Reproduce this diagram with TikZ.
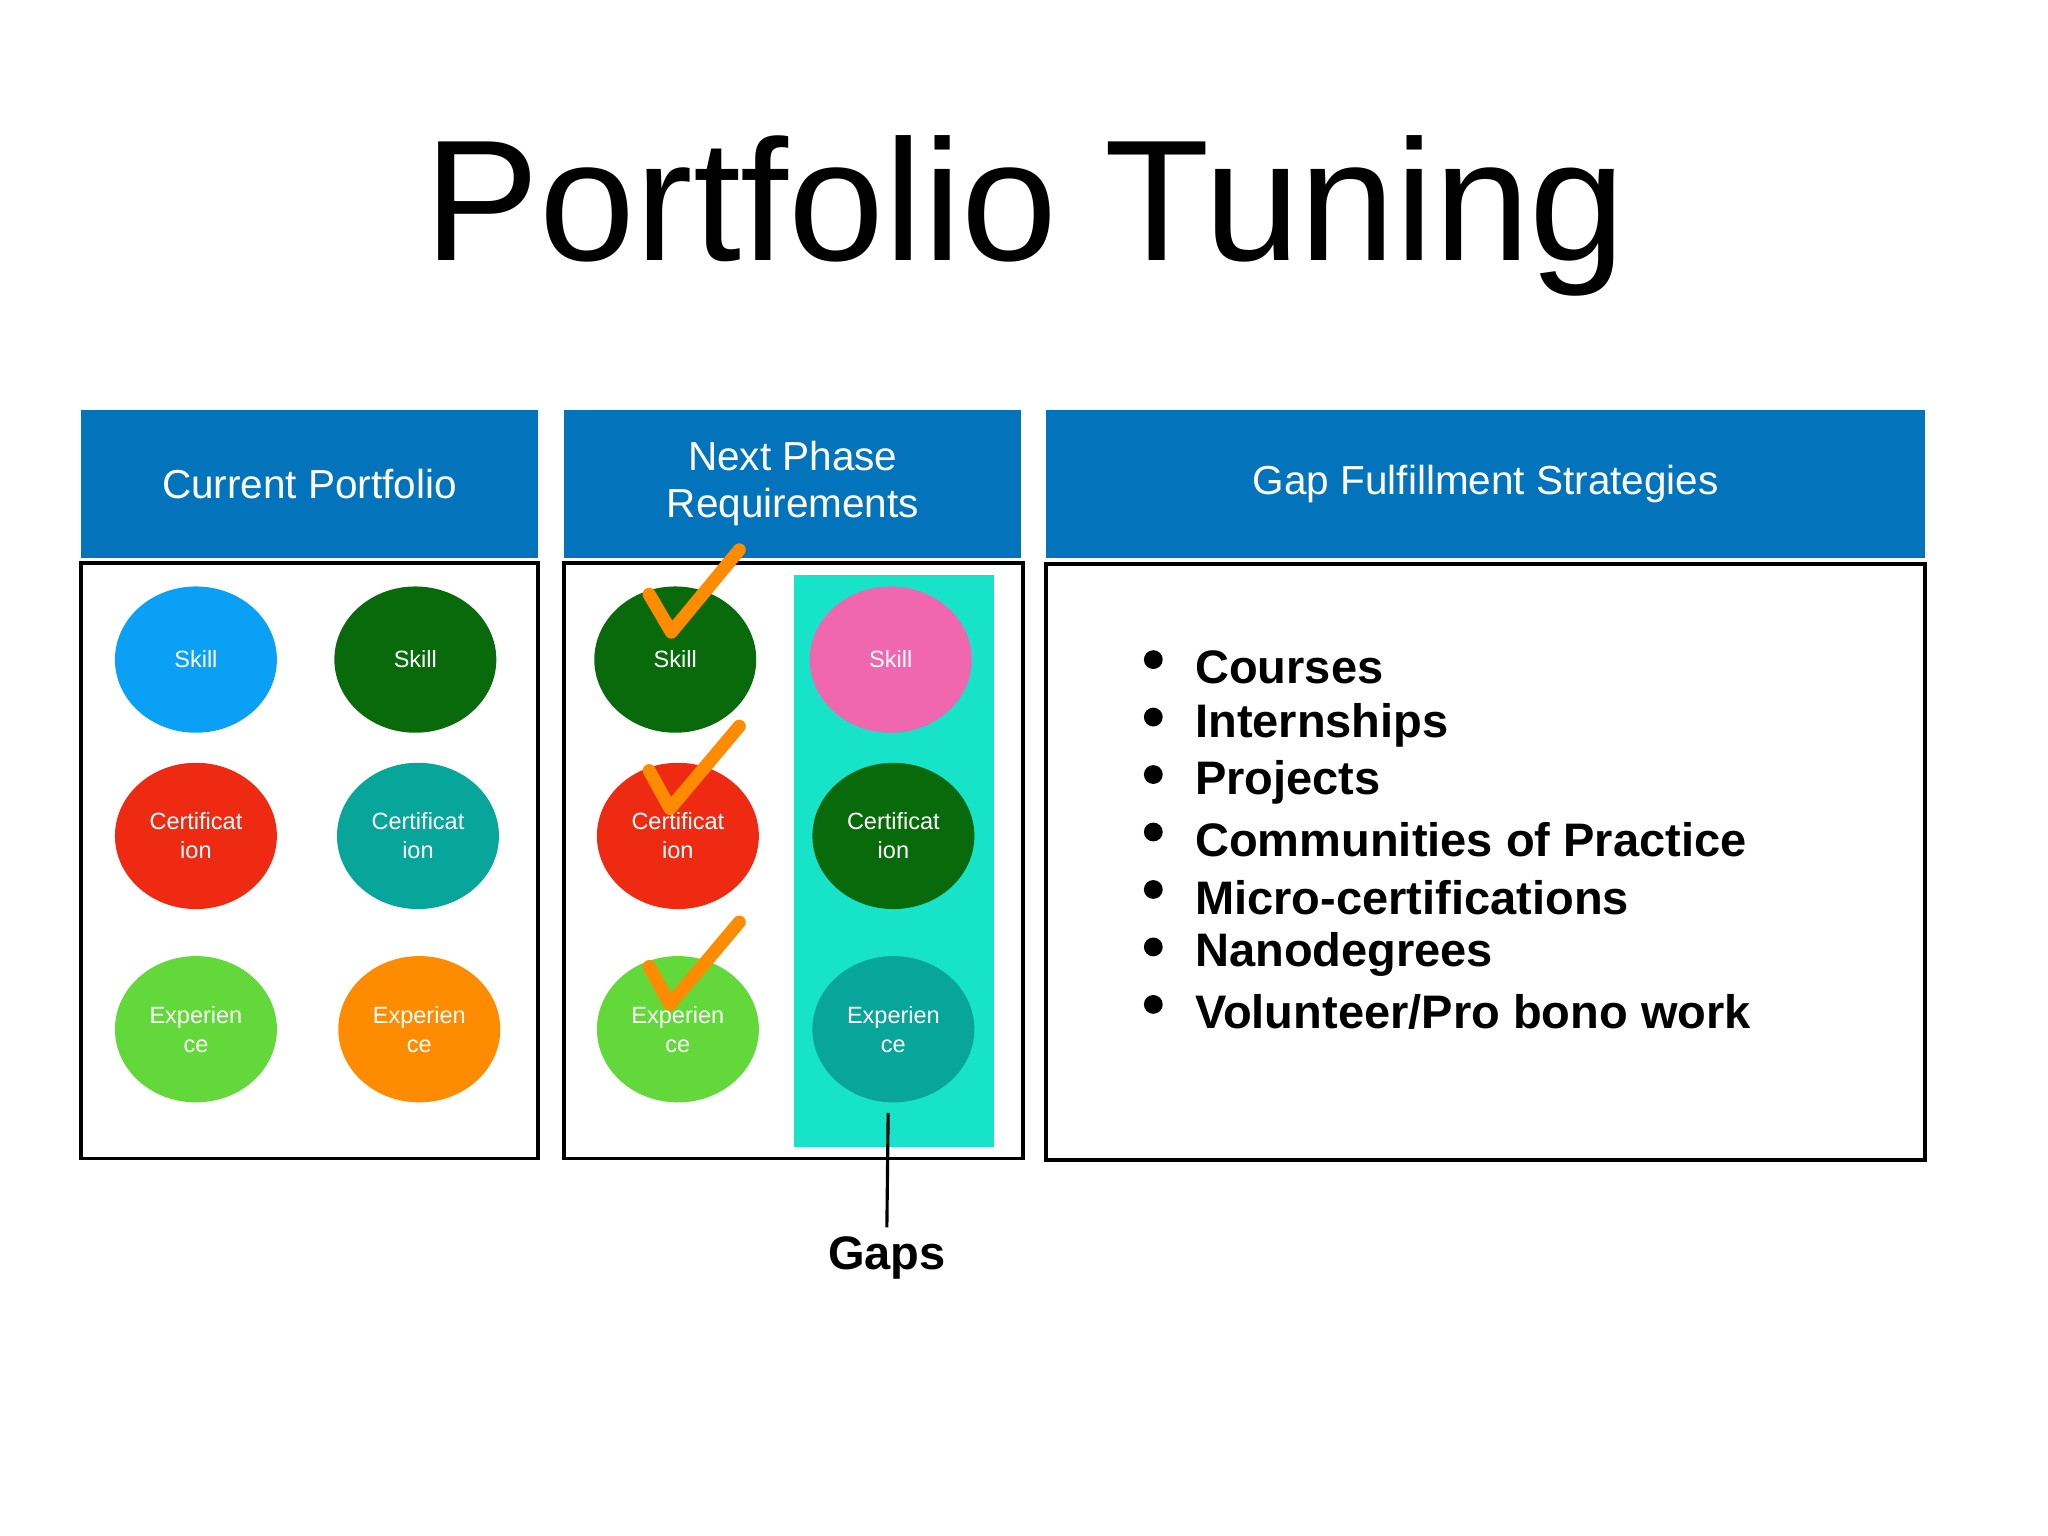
\documentclass[tikz,border=0pt]{standalone}
\usepackage{fontspec}
\setmainfont{Liberation Sans}
\begin{document}
\begin{tikzpicture}[x=0.5pt,y=-0.5pt,
  hdr/.style={fill=hblue,draw=none,text=white,font=\fontsize{15.5}{18}\selectfont,align=center},
  cbox/.style={draw=black,line width=1.5pt},
  bub/.style={ellipse,minimum width=62pt,minimum height=56pt,inner sep=0pt,text=white,align=center,font=\fontsize{9}{11}\selectfont},
  chk/.style={draw=corange,line width=5pt,line cap=round,line join=round},
  itm/.style={anchor=west,font=\bfseries\fontsize{18}{20}\selectfont}]
\usetikzlibrary{shapes.geometric}
\definecolor{hblue}{HTML}{0373BB}
\definecolor{cyanb}{HTML}{17E3C8}
\definecolor{lblue}{HTML}{0AA0F5}
\definecolor{dgreen}{HTML}{086A0A}
\definecolor{cred}{HTML}{EE2B12}
\definecolor{cteal}{HTML}{08A59A}
\definecolor{lgreen}{HTML}{62D83A}
\definecolor{corange}{HTML}{FF8C00}
\definecolor{cpink}{HTML}{F067B0}
\useasboundingbox[fill=white] (0,0) rectangle (1568,1176);
\node[font=\fontsize{66}{70}\selectfont] (title) at (785,165) {Portfolio Tuning};
\node[hdr,minimum width=175pt,minimum height=56.5pt] (h1) at (237,370.5) {Current Portfolio};
\node[hdr,minimum width=175pt,minimum height=56.5pt] (h2) at (607,370.5) {Next Phase\\Requirements};
\node[hdr,minimum width=336.5pt,minimum height=56.5pt] (h3) at (1137.5,370.5) {Gap Fulfillment Strategies};
\draw[cbox] (62,431) rectangle (412,887);
\draw[cbox] (432,431) rectangle (783,887);
\draw[cbox] (801,432) rectangle (1474,888);
\fill[cyanb] (608,440) rectangle (761,878);
\node[bub,fill=lblue] (a1) at (150,505) {Skill};
\node[bub,fill=dgreen] (a2) at (318,505) {Skill};
\node[bub,fill=cred] (a3) at (150,640) {Certificat\\ion};
\node[bub,fill=cteal] (a4) at (320,640) {Certificat\\ion};
\node[bub,fill=lgreen] (a5) at (150,788) {Experien\\ce};
\node[bub,fill=corange] (a6) at (321,788) {Experien\\ce};
\node[bub,fill=dgreen] (b1) at (517,505) {Skill};
\node[bub,fill=cpink] (b2) at (682,505) {Skill};
\node[bub,fill=cred] (b3) at (519,640) {Certificat\\ion};
\node[bub,fill=dgreen] (b4) at (684,640) {Certificat\\ion};
\node[bub,fill=lgreen] (b5) at (519,788) {Experien\\ce};
\node[bub,fill=cteal] (b6) at (684,788) {Experien\\ce};
\draw[chk] (497,455) -- (514,484) -- (566,421);
\draw[chk] (497,590) -- (513,619) -- (566,556);
\draw[chk] (497,740) -- (513,769) -- (566,706);
\node[font=\bfseries\fontsize{18}{20}\selectfont] (gaps) at (679,963) {Gaps};
\coordinate (gtop) at (680,852);
\draw[line width=1.2pt] (gtop) -- (gaps.north);
\foreach \t [count=\i] in {Courses,Internships,Projects,Communities of Practice,Micro-certifications,Nanodegrees,Volunteer/Pro bono work}{
  \fill (883,{461+44*\i}) circle (3.6pt);
  \node[itm] (i\i) at (908,{467+44*\i}) {\t};
}
\end{tikzpicture}
\end{document}
